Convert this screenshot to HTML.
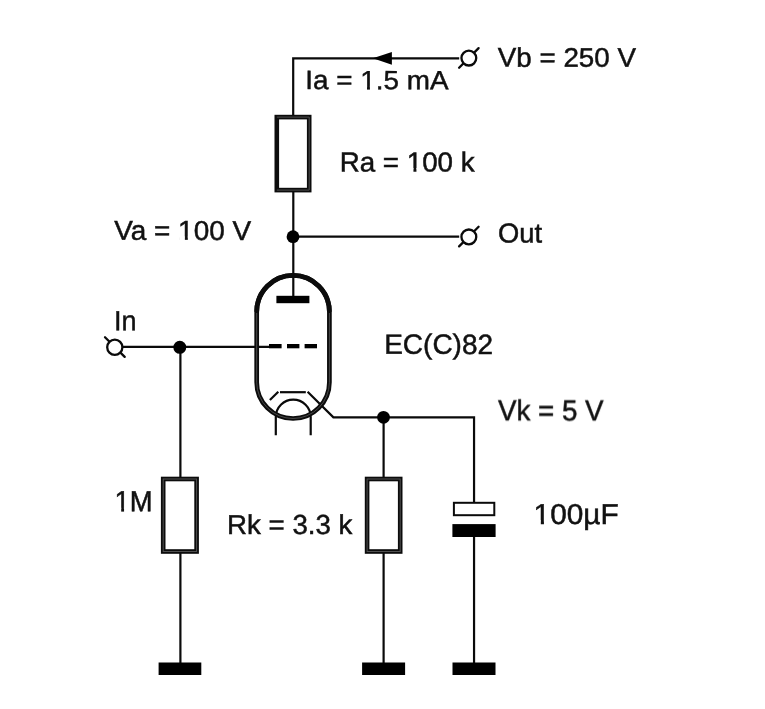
<!DOCTYPE html>
<html>
<head>
<meta charset="utf-8">
<title>EC(C)82 stage</title>
<style>
  html, body { margin: 0; padding: 0; background: #ffffff; }
  body { width: 765px; height: 709px; overflow: hidden; }
  svg { display: block; }
  text { font-family: "Liberation Sans", sans-serif; font-size: 27.8px; fill: #111111; stroke: #111111; stroke-width: 0.5px; text-rendering: geometricPrecision; }
  .all { filter: url(#soft); }
</style>
</head>
<body>
<svg width="765" height="709" viewBox="0 0 765 709">
  <defs>
    <filter id="soft" x="0" y="0" width="765" height="709" filterUnits="userSpaceOnUse" color-interpolation-filters="sRGB">
      <feGaussianBlur stdDeviation="0.35"/>
    </filter>
  </defs>
  <rect x="0" y="0" width="765" height="709" fill="#ffffff"/>

  <g class="all">
  <!-- wires -->
  <g fill="none" stroke="#0a0a0a" stroke-width="2.2" stroke-linecap="butt" stroke-linejoin="miter">
    <!-- supply rail -->
    <path d="M459.2 58.35 H293.2 V117"/>
    <!-- Ra to anode -->
    <path d="M293.3 191 V297"/>
    <!-- out -->
    <path d="M293.1 236.6 H459.2"/>
    <!-- grid input -->
    <path d="M123 346.8 H270"/>
    <!-- 1M leg -->
    <path d="M180.4 347 V478"/>
    <path d="M180.4 553 V664"/>
    <!-- cathode wire -->
    <path d="M307.6 391.8 L333.4 417.4 H474.05 V503"/>
    <!-- Rk leg -->
    <path d="M383.6 417.4 V478"/>
    <path d="M383.6 553 V664"/>
    <!-- cap leg -->
    <path d="M474.05 536 V664"/>
    <!-- cathode -->
    <path d="M280 392.2 H305.8"/>
    <path d="M278.3 391.8 L269.9 400"/>
    <!-- heater -->
    <path d="M275.8 435.3 V417.1 A17.45 17.45 0 0 1 310.7 417.1 V435.3"/>
  </g>

  <!-- tube envelope -->
  <rect x="256.7" y="275.4" width="72.7" height="143.1" rx="36.35" ry="36.35" fill="none" stroke="#0c0c0c" stroke-width="4.7"/>
  <path d="M256.7 275.4 m0 36.35 a36.35 36.35 0 0 1 72.7 0" fill="none" stroke="#0c0c0c" stroke-width="4.8"/>
  <path d="M256.7 313 V382.15 a36.35 36.35 0 0 0 72.7 0 V313" fill="none" stroke="#4a4a4a" stroke-width="1"/>

  <!-- anode plate -->
  <rect x="276.4" y="295.8" width="33" height="7.4" fill="#000"/>
  <!-- grid dashes -->
  <g fill="#000">
    <rect x="269" y="344" width="12.6" height="4.3"/>
    <rect x="287" y="344" width="12.4" height="4.3"/>
    <rect x="304.6" y="344" width="12.4" height="4.3"/>
  </g>

  <!-- resistors -->
  <g fill="#ffffff" stroke="#0c0c0c" stroke-width="4.6">
    <rect x="276.8" y="117.1" width="32.4" height="73"/>
    <rect x="163.2" y="479" width="33.4" height="72.5"/>
    <rect x="367.1" y="479" width="33.1" height="72.5"/>
  </g>
  <g fill="none" stroke="#505050" stroke-width="1">
    <path d="M276.8 117.1 H309.2 V190.1 H276.8"/>
    <rect x="163.2" y="479" width="33.4" height="72.5"/>
    <rect x="367.1" y="479" width="33.1" height="72.5"/>
  </g>

  <!-- capacitor -->
  <rect x="453.9" y="502.8" width="40.4" height="12.4" fill="#fff" stroke="#0a0a0a" stroke-width="2"/>
  <rect x="452.4" y="524.1" width="43.2" height="12.9" fill="#000"/>

  <!-- grounds -->
  <g fill="#000">
    <rect x="158.6" y="662.5" width="42.7" height="12.5"/>
    <rect x="362.1" y="662.5" width="43" height="12.5"/>
    <rect x="452.5" y="662.5" width="43" height="12.5"/>
  </g>

  <!-- junction dots -->
  <g fill="#000">
    <circle cx="293" cy="236.7" r="6.4"/>
    <circle cx="179.8" cy="347.3" r="6.5"/>
    <circle cx="383.5" cy="417.3" r="6.4"/>
  </g>

  <!-- terminals -->
  <g fill="none" stroke="#0a0a0a" stroke-width="2.3" stroke-linecap="round">
    <path d="M459.1 67.8 L478.6 48.1"/>
    <path d="M459.1 246.4 L478.6 226.7"/>
    <path d="M105.0 337.2 L124.7 356.9"/>
  </g>
  <g fill="#ffffff" stroke="#0a0a0a" stroke-width="2.3">
    <circle cx="468.85" cy="58.1" r="7.4"/>
    <circle cx="468.85" cy="236.9" r="7.4"/>
    <circle cx="114.8" cy="347.2" r="7.6"/>
  </g>

  <!-- arrow -->
  <path d="M372.8 58.35 L391.9 52.0 V64.7 Z" fill="#000"/>

  <!-- labels -->
    <text transform="translate(497.86 66.62) rotate(0.06) scale(0.9978 0.9701)">Vb = 250 V</text>
    <text transform="translate(305.27 89.07) rotate(0.06) scale(1.0020 0.9496)">Ia = 1.5 mA</text>
    <text transform="translate(339.66 171.39) rotate(0.06) scale(0.9982 0.9878)">Ra = 100 k</text>
    <text transform="translate(114.14 239.80) rotate(0.06) scale(1.0052 0.9830)">Va = 100 V</text>
    <text transform="translate(498.06 242.46) rotate(0.06) scale(0.9830 0.9904)">Out</text>
    <text transform="translate(113.97 330.31) rotate(0.06) scale(0.9709 0.9963)">In</text>
    <text transform="translate(384.22 353.80) rotate(0.06) scale(1.0060 1.0000)">EC(C)82</text>
    <text transform="translate(498.05 420.44) rotate(0.06) scale(0.9967 1.0424)">Vk = 5 V</text>
    <text transform="translate(114.54 511.34) rotate(0.06) scale(0.9842 1.0500)">1M</text>
    <text transform="translate(227.12 534.00) rotate(0.06) scale(0.9954 0.9874)">Rk = 3.3 k</text>
    <text transform="translate(533.58 523.88) rotate(0.06) scale(1.0712 1.0360)">100µF</text>
    <!-- trim the foot of each digit one to match the reference face -->
    <g transform="translate(305.27 89.07) rotate(0.06) scale(1.0020 0.9496)" fill="#ffffff"><rect x="56.08" y="-3.5" width="5.52" height="4.5"/><rect x="64.56" y="-3.5" width="5.31" height="4.5"/></g>
    <g transform="translate(339.66 171.39) rotate(0.06) scale(0.9982 0.9878)" fill="#ffffff"><rect x="68.42" y="-3.5" width="5.52" height="4.5"/><rect x="76.90" y="-3.5" width="5.31" height="4.5"/></g>
    <g transform="translate(114.14 239.80) rotate(0.06) scale(1.0052 0.9830)" fill="#ffffff"><rect x="64.83" y="-3.5" width="5.52" height="4.5"/><rect x="73.31" y="-3.5" width="5.31" height="4.5"/></g>
    <g transform="translate(114.54 511.34) rotate(0.06) scale(0.9842 1.0500)" fill="#ffffff"><rect x="1.22" y="-3.5" width="5.52" height="4.5"/><rect x="9.70" y="-3.5" width="5.31" height="4.5"/></g>
    <g transform="translate(533.58 523.88) rotate(0.06) scale(1.0712 1.0360)" fill="#ffffff"><rect x="1.22" y="-3.5" width="5.52" height="4.5"/><rect x="9.70" y="-3.5" width="5.31" height="4.5"/></g>
  </g>
</svg>
</body>
</html>
